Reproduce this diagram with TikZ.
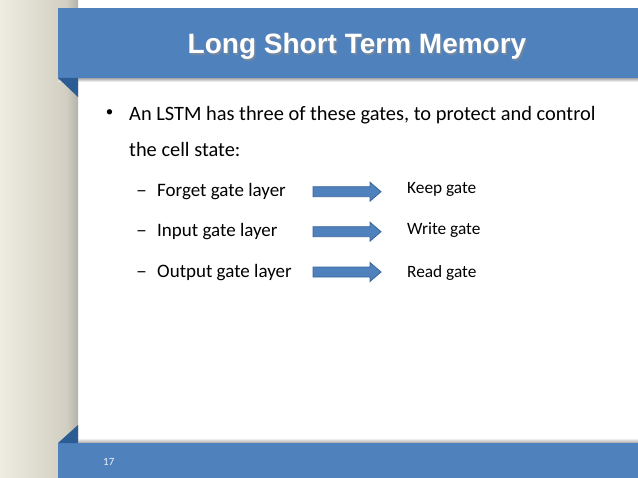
\documentclass[tikz,border=0pt]{standalone}
\usepackage{fontspec}
\setmainfont{Carlito}
\newfontfamily\titlefont{Liberation Sans}
\definecolor{bannerblue}{HTML}{4F81BD}
\definecolor{folddark}{HTML}{2B5C94}
\definecolor{arrowline}{HTML}{3A659C}
\definecolor{stripL}{HTML}{EEECE1}
\definecolor{stripR}{HTML}{D2CFC2}
\definecolor{stripE}{HTML}{B5B3AA}
\begin{document}
\begin{tikzpicture}[x=1bp,y=-1bp,
  bodytext/.style={inner sep=0pt, anchor=base west, text=black, font=\fontsize{20.4bp}{24bp}\selectfont},
  subtext/.style={inner sep=0pt, anchor=base west, text=black, font=\fontsize{19bp}{23bp}\selectfont},
  labeltext/.style={inner sep=0pt, anchor=base west, text=black, font=\fontsize{17.3bp}{21bp}\selectfont},
  blockarrow/.style={fill=bannerblue, draw=arrowline, line width=0.8bp, line join=miter},
  titletext/.style={inner sep=0pt, anchor=base, font=\titlefont\bfseries\fontsize{28bp}{32bp}\selectfont}
]
\useasboundingbox (0,0) rectangle (638,478);
% page background
\fill[white] (0,0) rectangle (638,478);
% left strip
\shade[left color=stripL, right color=stripR] (0,0) rectangle (66,478);
\shade[left color=stripR, right color=stripE] (66,0) rectangle (78,478);
% banner shadow
\shade[top color=black!35, bottom color=white] (58,78) rectangle (638,82);
% banner
\fill[bannerblue] (58,8) rectangle (638,78);
\fill[folddark] (58,78) -- (78,78) -- (78,97) -- cycle;
% bottom bar
\shade[top color=white, bottom color=black!35] (78,438) rectangle (638,443);
\fill[bannerblue] (58,443) rectangle (638,478);
\fill[folddark] (78,425) -- (78,443) -- (58,443) -- cycle;
% title
\node[titletext, text=black!45, opacity=0.6] (titleshadow) at (358.5,55.5) {Long Short Term Memory};
\node[titletext, text=white] (title) at (357,54) {Long Short Term Memory};
% bullet text
\node[inner sep=0pt, anchor=center, font=\fontsize{15bp}{18bp}\selectfont] (bullet) at (109.5,113) {•};
\node[bodytext] (l1) at (129,121) {An LSTM has three of these gates, to protect and control};
\node[bodytext] (l2) at (129,157) {the cell state:};
% sub items
\node[subtext, xscale=1.15] (d1) at (136,197) {–};
\node[subtext] (s1) at (157,197) {Forget gate layer};
\node[subtext, xscale=1.15] (d2) at (136,237) {–};
\node[subtext] (s2) at (157,237) {Input gate layer};
\node[subtext, xscale=1.15] (d3) at (136,277) {–};
\node[subtext] (s3) at (157,277) {Output gate layer};
% arrows
\foreach \yc in {191.7,231.7,272.0}{
  \draw[blockarrow] (313,\yc-5) -- (370,\yc-5) -- (370,\yc-9.5) -- (381,\yc) -- (370,\yc+9.5) -- (370,\yc+5) -- (313,\yc+5) -- cycle;
}
% labels
\node[labeltext] (k) at (407,194) {Keep gate};
\node[labeltext] (w) at (407,235) {Write gate};
\node[labeltext] (r) at (407,277) {Read gate};
% page number
\node[inner sep=0pt, anchor=base west, text=white!90!bannerblue, font=\fontsize{11bp}{13bp}\selectfont] (pg) at (103,465) {17};
\end{tikzpicture}
\end{document}
